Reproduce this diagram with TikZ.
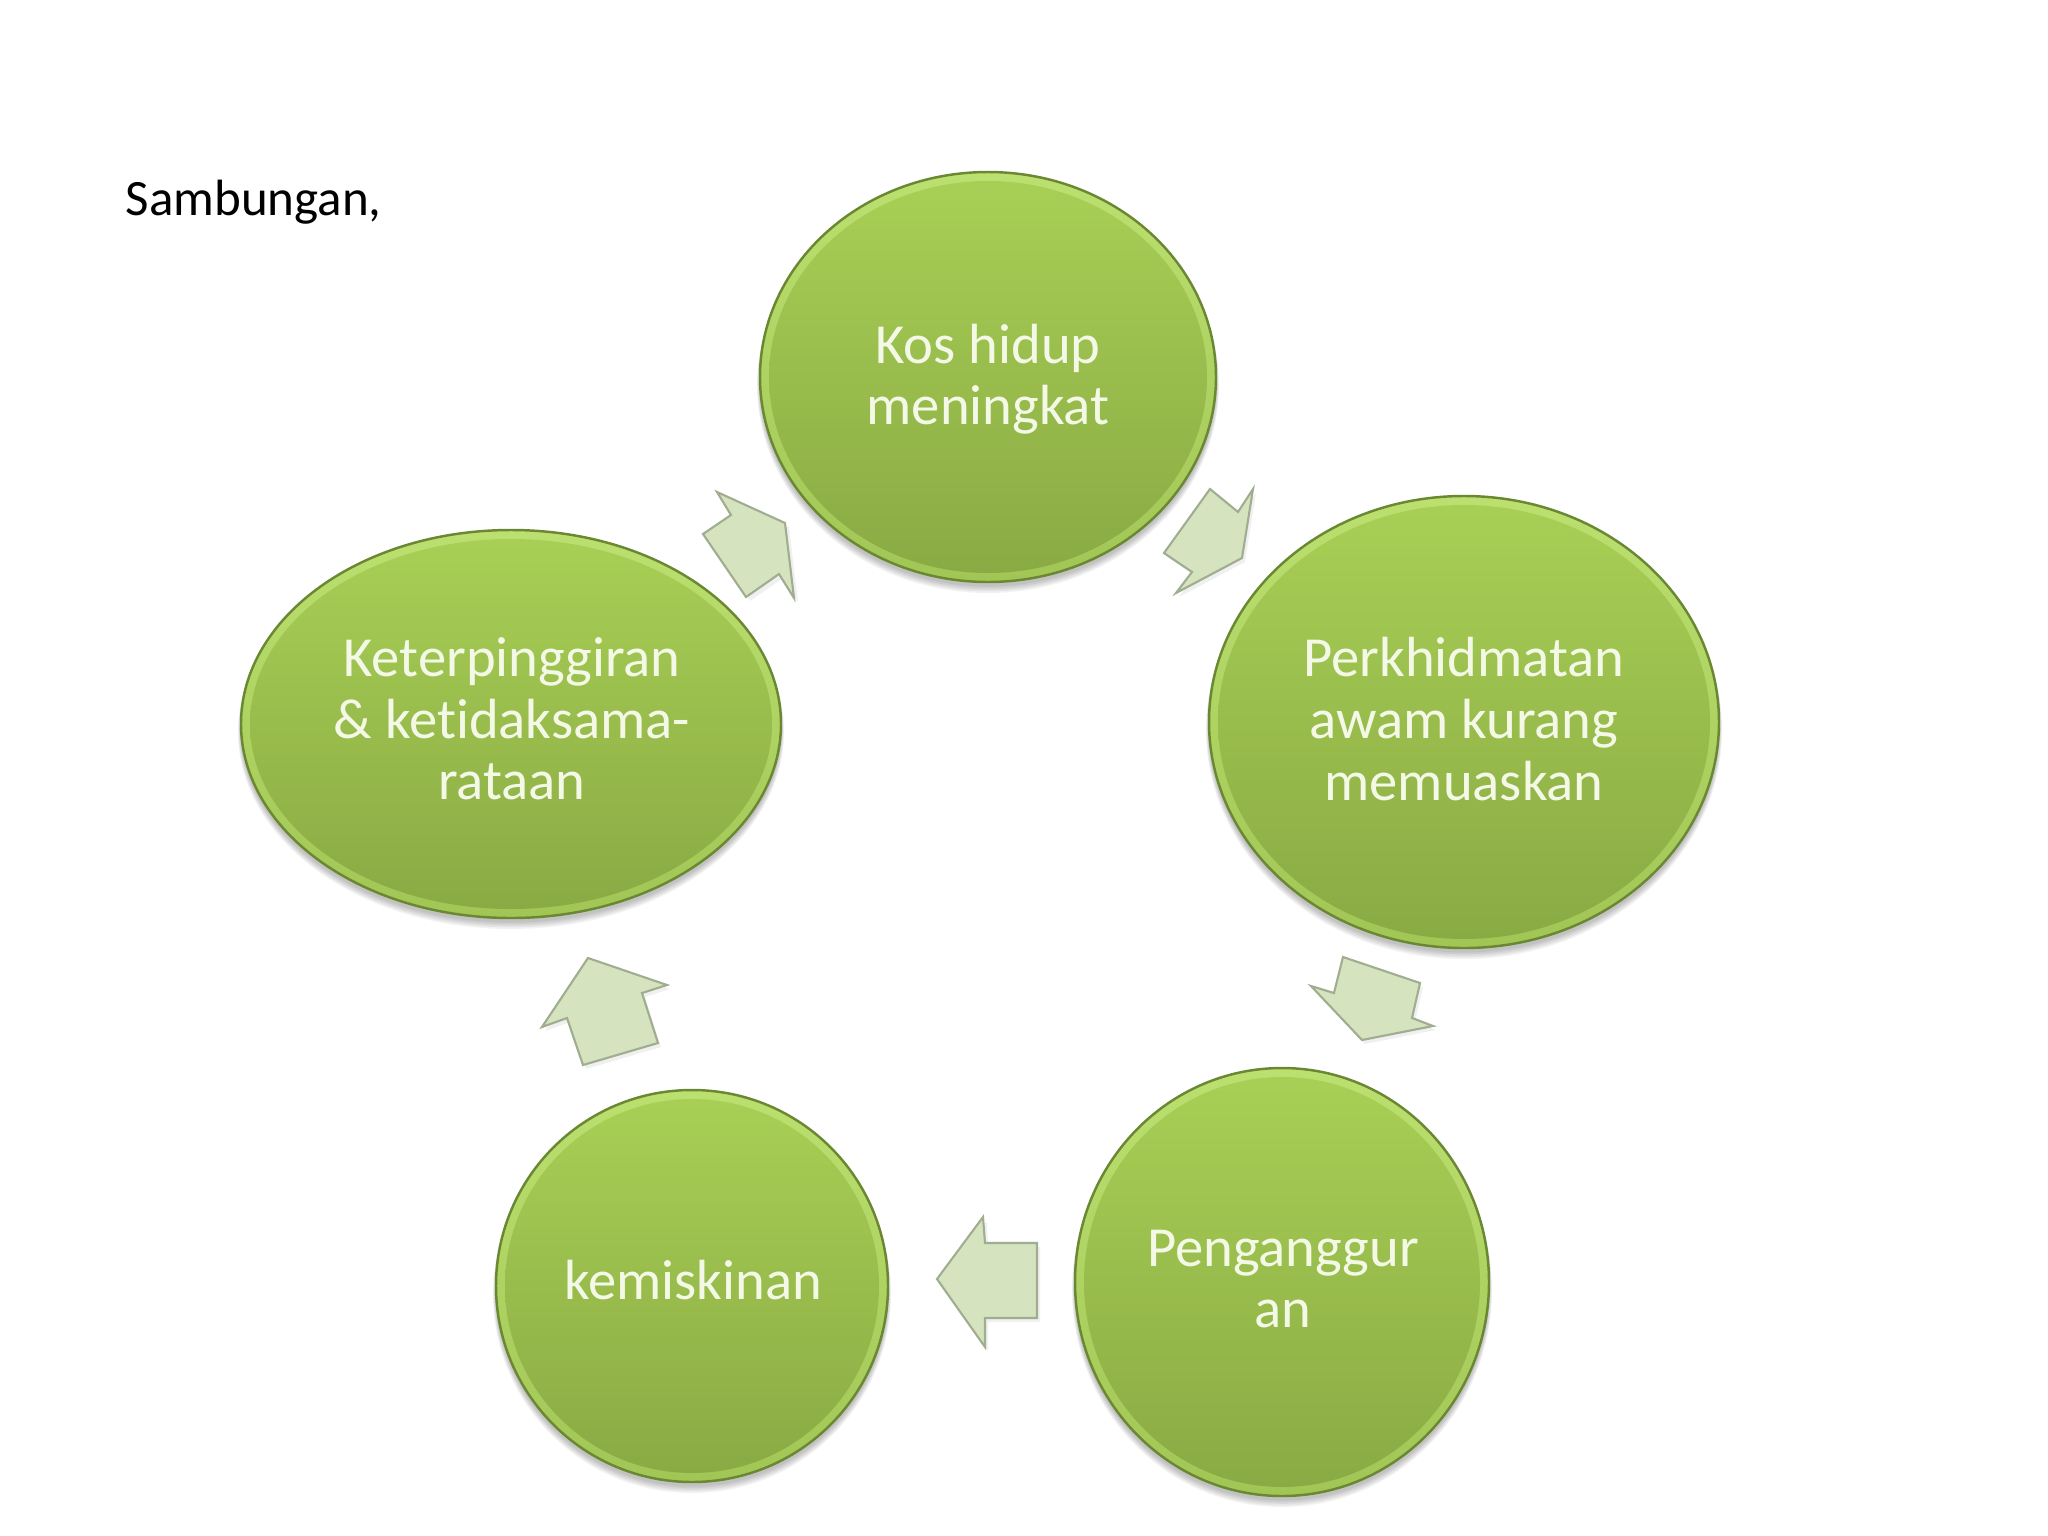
\documentclass[tikz,border=0pt]{standalone}
\usepackage{fontspec}
\setmainfont{Carlito}[Ligatures={NoCommon}]
\definecolor{rimtop}{HTML}{BCE070}
\definecolor{rimbot}{HTML}{A2C655}
\definecolor{rimline}{HTML}{6A8832}
\definecolor{disctop}{HTML}{A8CF55}
\definecolor{discbot}{HTML}{8AAA44}
\definecolor{bubtxt}{HTML}{F3F9E6}
\definecolor{arrowfill}{HTML}{D5E4BF}
\definecolor{arrowline}{HTML}{A0AD90}
\tikzset{
  bubtext/.style={align=center, text=bubtxt, inner sep=0pt,
    font=\fontsize{16.1pt}{17.5pt}\selectfont},
  rim/.style={top color=rimtop, bottom color=rimbot, draw=rimline, line width=0.7pt},
  disc/.style={top color=disctop, bottom color=discbot},
  blockarrow/.style={fill=arrowfill, draw=arrowline, line width=0.6pt, line join=miter},
  arrowshadow/.style={fill=black, opacity=0.06},
}
% #1 name, #2 cx, #3 cy, #4 rx, #5 ry, #6 text x, #7 text y, #8 text
\newcommand\bubble[8]{%
  \foreach \k in {1,...,5}{%
    \fill[black,opacity=0.05] (#2,#3+3+\k) ellipse [x radius={(#4+\k*0.6)*0.01cm}, y radius={(#5+\k*0.6)*0.01cm}];}
  \path[rim] (#2,#3) ellipse [x radius={#4*0.01cm}, y radius={#5*0.01cm}];
  \path[disc] (#2,#3) ellipse [x radius={(#4-9)*0.01cm}, y radius={(#5-9)*0.01cm}];
  \node[bubtext] (#1) at (#6,#7) {#8};
}
\begin{document}
\begin{tikzpicture}[x=0.01cm,y=-0.01cm]
\useasboundingbox[fill=white] (0,0) rectangle (2048,1536);

\node[anchor=base west, inner sep=0pt, font=\fontsize{14.5pt}{17pt}\selectfont] (title) at (125,215) {Sambungan,};

\bubble{kos}{988}{377}{228}{205}{988}{379}{Kos hidup\\meningkat}
\bubble{awam}{1464}{722}{255}{226}{1464}{719}{Perkhidmatan\\awam kurang\\memuaskan}
\bubble{ganggur}{1282}{1282}{207}{214}{1283}{1279}{Penganggur\\an}
\bubble{miskin}{692}{1286}{196}{196}{693}{1280}{kemiskinan}
\bubble{pinggir}{511}{724}{270}{194}{512}{719}{Keterpinggiran\\\&{} ketidaksama-\\rataan}

% arrow: Keterpinggiran -> Kos hidup
\fill[arrowshadow] (706,538) -- (735,519) -- (721,496) -- (789,527) -- (798,602) -- (783,578) -- (750,601) -- cycle;
\path[blockarrow] (703,534) -- (731,515) -- (717,492) -- (785,523) -- (794,598) -- (779,574) -- (746,597) -- cycle;
% arrow: Kos hidup -> Perkhidmatan
\fill[arrowshadow] (1213,493) -- (1241,515) -- (1256,493) -- (1245,562) -- (1179,597) -- (1195,575) -- (1167,557) -- cycle;
\path[blockarrow] (1210,489) -- (1238,512) -- (1253,489) -- (1242,558) -- (1176,593) -- (1192,572) -- (1164,553) -- cycle;
% arrow: Perkhidmatan -> Pengangguran
\fill[arrowshadow] (1346,961) -- (1423,987) -- (1415,1022) -- (1436,1030) -- (1365,1044) -- (1314,990) -- (1337,997) -- cycle;
\path[blockarrow] (1343,957) -- (1420,983) -- (1412,1018) -- (1433,1026) -- (1362,1040) -- (1311,986) -- (1334,993) -- cycle;
% arrow: Pengangguran -> kemiskinan
\fill[arrowshadow] (940,1283) -- (987,1221) -- (988,1247) -- (1040,1247) -- (1040,1322) -- (988,1322) -- (988,1351) -- cycle;
\path[blockarrow] (937,1279) -- (983,1217) -- (985,1243) -- (1037,1243) -- (1037,1318) -- (985,1318) -- (985,1347) -- cycle;
% arrow: kemiskinan -> Keterpinggiran
\fill[arrowshadow] (591,962) -- (670,989) -- (645,997) -- (661,1047) -- (586,1069) -- (570,1022) -- (545,1031) -- cycle;
\path[blockarrow] (588,958) -- (667,985) -- (642,993) -- (658,1043) -- (583,1065) -- (567,1018) -- (542,1027) -- cycle;
\end{tikzpicture}
\end{document}
